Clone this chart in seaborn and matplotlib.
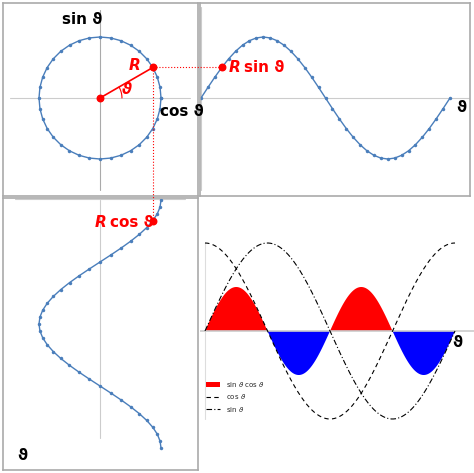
import numpy as np
import pandas as pd
import matplotlib
matplotlib.use("Agg")
import matplotlib.pyplot as plt
import seaborn as sns

sns.set_style("white")
plt.rcParams['font.family'] = ['DejaVu Sans']

theta_deg = list(range(0, 361, 10))
th = np.radians(theta_deg)
circle_x = np.cos(th); circle_y = np.sin(th)
marked_angle = 30
blue = "#4a7ebb"
W, H = 474, 473
fig = plt.figure(figsize=(W/100, H/100), dpi=100)

def add_px(x0, y0, x1, y1, cx, cy, s, sy=None, frame=True):
    sy = sy or s
    ax = fig.add_axes([x0/W, 1-y1/H, (x1-x0)/W, (y1-y0)/H])
    ax.set_xlim((x0-cx)/s, (x1-cx)/s)
    ax.set_ylim((cy-y1)/sy, (cy-y0)/sy)
    ax.set_xticks([]); ax.set_yticks([])
    for sp in ax.spines.values():
        sp.set_visible(frame); sp.set_color("#aaaaaa"); sp.set_linewidth(1.2)
    return ax

line_kw = dict(color=blue, marker="o", markersize=2.5, lw=1, markeredgewidth=0, estimator=None, sort=False)

S = 61
# top-left circle
a1 = add_px(3, 3, 198, 196, 100, 98, S)
a1.plot([-1.48, 1.48], [0, 0], color="#cccccc", lw=0.8)
a1.plot([0, 0], [-1.5, 1.45], color="#aaaaaa", lw=0.8)
sns.lineplot(x=circle_x, y=circle_y, ax=a1, **line_kw)
ang = np.linspace(0, np.radians(marked_angle), 20)
a1.plot(0.36*np.cos(ang), 0.36*np.sin(ang), color="red", lw=0.8)

# top-right sine
px = 249/360
a2 = add_px(200, 3, 470, 196, 201, 98, px, S)
a2.plot([-1, 268/px], [0, 0], color="#cccccc", lw=0.8)
a2.plot([0, 0], [-1.5, 1.5], color="#cccccc", lw=0.8)
sns.lineplot(x=theta_deg, y=np.sin(th), ax=a2, **line_kw)

# bottom-left cosine (vertical)
py = 248/360
a3 = fig.add_axes([3/W, 1-470/H, 195/W, 272/H])
a3.set_xlim((3-100)/S, (198-100)/S); a3.set_ylim((470-200)/py, (198-200)/py)
a3.set_xticks([]); a3.set_yticks([])
for sp in a3.spines.values():
    sp.set_color("#aaaaaa"); sp.set_linewidth(1.2)
a3.plot([0, 0], [0, 345], color="#cccccc", lw=0.8)
a3.plot([-1.4, 1.4], [-1, -1], color="#cccccc", lw=0.8)
sns.lineplot(x=np.cos(th), y=theta_deg, orient="y", ax=a3, **line_kw)

# bottom-right product
a4 = add_px(200, 240, 474, 440, 205, 331, 250/360, 88, frame=False)
t = np.linspace(0, 360, 721)
tr = np.radians(t)
prod = np.sin(tr)*np.cos(tr)
a4.axhline(0, color="#cccccc", lw=1.2)
a4.plot([0, 0], [-1.0, 1.0], color="#dddddd", lw=0.8)
a4.fill_between(t, 0, prod, where=prod >= 0, color="red", lw=0, label=r"sin $\vartheta$ cos $\vartheta$", interpolate=True)
a4.fill_between(t, 0, prod, where=prod <= 0, color="blue", lw=0, interpolate=True)
sns.lineplot(x=t, y=np.cos(tr), ax=a4, color="black", lw=0.8, ls=(0, (4, 3)), label=r"cos $\vartheta$")
sns.lineplot(x=t, y=np.sin(tr), ax=a4, color="black", lw=0.8, ls=(0, (5, 2, 1, 2)), label=r"sin $\vartheta$")
a4.legend(loc="lower left", bbox_to_anchor=(0.0, 0.1), frameon=False, fontsize=5, handlelength=2)

# overlay
ov = fig.add_axes([0, 0, 1, 1], facecolor="none")
ov.set_xlim(0, W); ov.set_ylim(H, 0); ov.axis("off")
pxp, pyp = 100 + S*np.cos(np.radians(30)), 98 - S*np.sin(np.radians(30))
ov.plot([100, pxp], [98, pyp], color="red", lw=1.2)
ov.plot([pxp, 201+30*px], [pyp, pyp], color="red", lw=0.8, ls=":")
ov.plot([pxp, pxp], [pyp, 200+30*py], color="red", lw=0.8, ls=":")
ov.scatter([100, pxp, 201+30*px, pxp], [98, pyp, pyp, 200+30*py], color="red", s=22, zorder=5)
bold = dict(fontsize=11, fontweight="bold")
ov.text(62, 19, "sin ϑ", color="black", va="center", **bold)
ov.text(160, 111, "cos ϑ", color="black", va="center", **bold)
ov.text(140, 66, "R", color="red", ha="right", va="center", style="italic", **bold)
ov.text(122, 90, "ϑ", color="red", va="center", style="italic", **bold)
ov.text(229, 68, "R", color="red", va="center", style="italic", **bold)
ov.text(244, 68, "sin ϑ", color="red", va="center", **bold)
ov.text(95, 222, "R", color="red", va="center", style="italic", **bold)
ov.text(110, 222, "cos ϑ", color="red", va="center", **bold)
ov.text(456, 107, "ϑ", color="black", va="center", **bold)
ov.text(452, 342, "ϑ", color="black", va="center", **bold)
ov.text(17, 455, "ϑ", color="black", va="center", **bold)

fig.savefig("out.png", dpi=100)
